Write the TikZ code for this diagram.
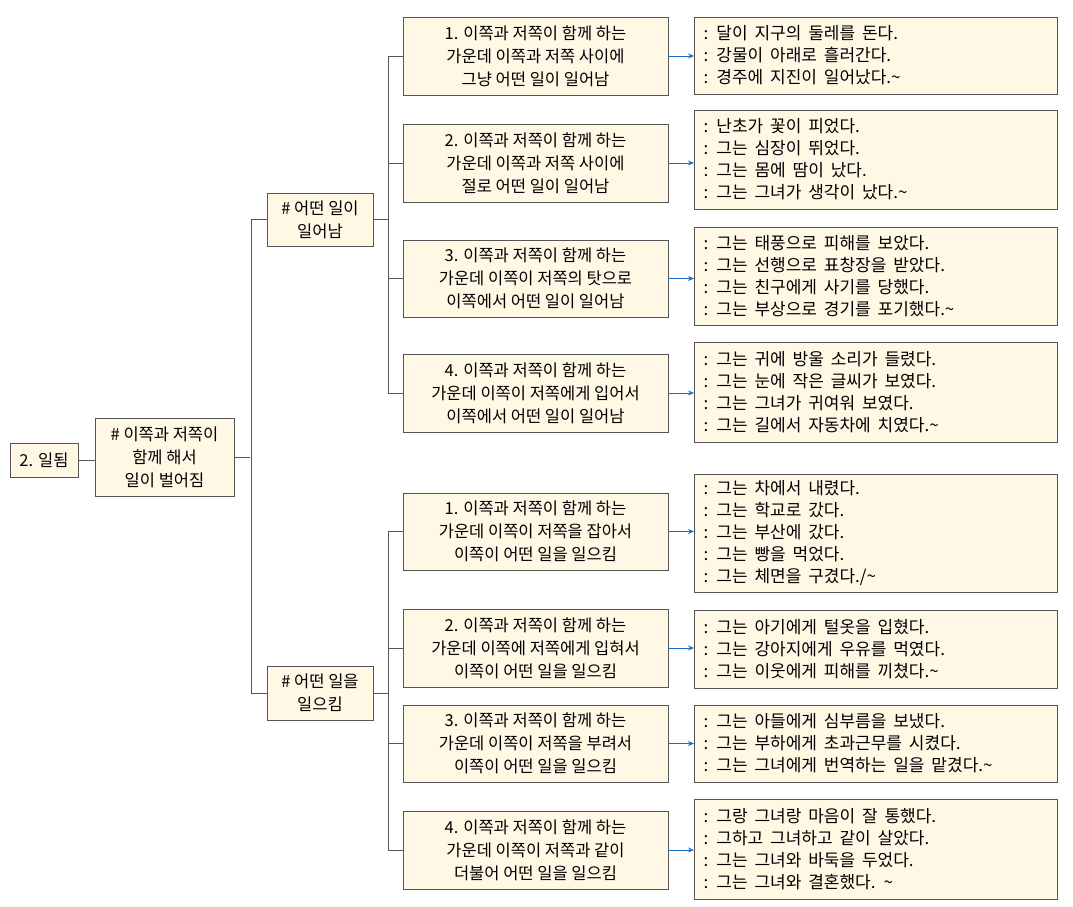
\documentclass[tikz,border=0pt]{standalone}
\usepackage{fontspec}
\setmainfont{Noto Sans CJK KR}
\newfontfamily\widefont[WordSpace=1.8]{Noto Sans CJK KR}
\usetikzlibrary{arrows.meta}
\definecolor{boxfill}{HTML}{FFF8E5}
\definecolor{boxline}{HTML}{555555}
\definecolor{arr}{HTML}{1F6FC0}
\begin{document}
\begin{tikzpicture}[x=1pt,y=-1pt,
  bx/.style={draw=boxline,fill=boxfill,line width=0.7pt,inner sep=0pt},
  tx/.style={font=\fontsize{16.5}{23}\selectfont,align=center},
  lx/.style={font=\widefont\fontsize{17}{22}\selectfont,align=left,anchor=west},
  tree/.style={draw=boxline,line width=0.6pt},
  ar/.style={draw=arr,line width=0.7pt,-{Stealth[length=6pt,width=5pt]}}]
\useasboundingbox (0,0) rectangle (1073,907);
\newcommand\bxx[6]{\draw[bx] (#2,#3) rectangle (#4,#5); \coordinate (#1) at ({(#2+#4)/2},{(#3+#5)/2}); \coordinate (#1w) at (#2,{(#3+#5)/2}); \coordinate (#1e) at (#4,{(#3+#5)/2});}
\bxx{r}{10}{443}{78}{477}{}
\node[tx] at (r) {2. 일됨};
\bxx{a}{95}{418}{234}{496}{}
\node[tx] at (a) {\# 이쪽과 저쪽이\\함께 해서\\일이 벌어짐};
\bxx{h1}{267}{193}{373}{246}{}
\node[tx] at (h1) {\# 어떤 일이\\일어남};
\bxx{h2}{267}{666}{373}{720}{}
\node[tx] at (h2) {\# 어떤 일을\\일으킴};
% middle
\bxx{m1}{403}{17}{668}{95}{}
\bxx{m2}{403}{124}{668}{202}{}
\bxx{m3}{403}{240}{668}{317}{}
\bxx{m4}{403}{354}{668}{432}{}
\bxx{m5}{403}{493}{668}{570}{}
\bxx{m6}{403}{609}{668}{687}{}
\bxx{m7}{403}{705}{668}{782}{}
\bxx{m8}{403}{811}{668}{889}{}
\node[tx] at (m1) {1. 이쪽과 저쪽이 함께 하는\\가운데 이쪽과 저쪽 사이에\\그냥 어떤 일이 일어남};
\node[tx] at (m2) {2. 이쪽과 저쪽이 함께 하는\\가운데 이쪽과 저쪽 사이에\\절로 어떤 일이 일어남};
\node[tx] at (m3) {3. 이쪽과 저쪽이 함께 하는\\가운데 이쪽이 저쪽의 탓으로\\이쪽에서 어떤 일이 일어남};
\node[tx] at (m4) {4. 이쪽과 저쪽이 함께 하는\\가운데 이쪽이 저쪽에게 입어서\\이쪽에서 어떤 일이 일어남};
\node[tx] at (m5) {1. 이쪽과 저쪽이 함께 하는\\가운데 이쪽이 저쪽을 잡아서\\이쪽이 어떤 일을 일으킴};
\node[tx] at (m6) {2. 이쪽과 저쪽이 함께 하는\\가운데 이쪽에 저쪽에게 입혀서\\이쪽이 어떤 일을 일으킴};
\node[tx] at (m7) {3. 이쪽과 저쪽이 함께 하는\\가운데 이쪽이 저쪽을 부려서\\이쪽이 어떤 일을 일으킴};
\node[tx] at (m8) {4. 이쪽과 저쪽이 함께 하는\\가운데 이쪽이 저쪽과 같이\\더불어 어떤 일을 일으킴};
% right
\bxx{n1}{694}{17}{1057}{94}{}
\bxx{n2}{694}{110}{1057}{209}{}
\bxx{n3}{694}{227}{1057}{325}{}
\bxx{n4}{694}{342}{1057}{442}{}
\bxx{n5}{694}{474}{1057}{592}{}
\bxx{n6}{694}{610}{1057}{688}{}
\bxx{n7}{694}{705}{1057}{782}{}
\bxx{n8}{694}{799}{1057}{899}{}
\node[lx] at ([xshift=6pt]n1w) {: 달이 지구의 둘레를 돈다.\\: 강물이 아래로 흘러간다.\\: 경주에 지진이 일어났다.\textasciitilde};
\node[lx] at ([xshift=6pt]n2w) {: 난초가 꽃이 피었다.\\: 그는 심장이 뛰었다.\\: 그는 몸에 땀이 났다.\\: 그는 그녀가 생각이 났다.\textasciitilde};
\node[lx] at ([xshift=6pt]n3w) {: 그는 태풍으로 피해를 보았다.\\: 그는 선행으로 표창장을 받았다.\\: 그는 친구에게 사기를 당했다.\\: 그는 부상으로 경기를 포기했다.\textasciitilde};
\node[lx] at ([xshift=6pt]n4w) {: 그는 귀에 방울 소리가 들렸다.\\: 그는 눈에 작은 글씨가 보였다.\\: 그는 그녀가 귀여워 보였다.\\: 그는 길에서 자동차에 치였다.\textasciitilde};
\node[lx] at ([xshift=6pt]n5w) {: 그는 차에서 내렸다.\\: 그는 학교로 갔다.\\: 그는 부산에 갔다.\\: 그는 빵을 먹었다.\\: 그는 체면을 구겼다./\textasciitilde};
\node[lx] at ([xshift=6pt]n6w) {: 그는 아기에게 털옷을 입혔다.\\: 그는 강아지에게 우유를 먹였다.\\: 그는 이웃에게 피해를 끼쳤다.\textasciitilde};
\node[lx] at ([xshift=6pt]n7w) {: 그는 아들에게 심부름을 보냈다.\\: 그는 부하에게 초과근무를 시켰다.\\: 그는 그녀에게 번역하는 일을 맡겼다.\textasciitilde};
\node[lx] at ([xshift=6pt]n8w) {: 그랑 그녀랑 마음이 잘 통했다.\\: 그하고 그녀하고 같이 살았다.\\: 그는 그녀와 바둑을 두었다.\\: 그는 그녀와 결혼했다. \textasciitilde};
% tree
\draw[tree] (re) -- (re -| aw);
\draw[tree] (ae) -- ++(16,0);
\draw[tree] (h1w) -- ++(-16,0) |- (h2w);
\draw[tree] (h1e) -- ++(15,0);
\draw[tree] (m1w) -- ++(-15,0) |- (m4w);
\foreach \m in {m2,m3} \draw[tree] (\m w) -- ++(-15,0);
\draw[tree] (h2e) -- ++(15,0);
\draw[tree] (m5w) -- ++(-15,0) |- (m8w);
\foreach \m in {m6,m7} \draw[tree] (\m w) -- ++(-15,0);
\foreach \i in {1,...,8} \draw[ar] (m\i e) -- (m\i e -| n\i w);
\end{tikzpicture}
\end{document}
